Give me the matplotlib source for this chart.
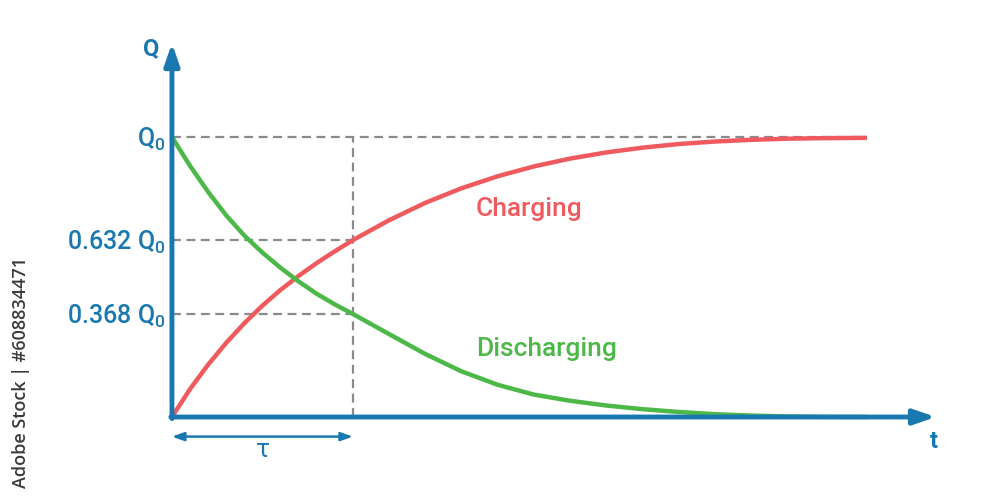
import matplotlib
matplotlib.use("Agg")
import matplotlib.pyplot as plt

# Data (time in units of tau, charge in units of Q0)
t_vals = [0, 0.1, 0.2, 0.3, 0.4, 0.5, 0.6, 0.7, 0.8, 0.9, 1.0, 1.2, 1.4, 1.6, 1.8,
          2.0, 2.2, 2.4, 2.6, 2.8, 3.0, 3.2, 3.4, 3.6, 3.84]
charging = [0, 0.100, 0.187, 0.265, 0.335, 0.398, 0.454, 0.504, 0.550, 0.592, 0.632,
            0.703, 0.765, 0.817, 0.860, 0.895, 0.923, 0.945, 0.962, 0.975, 0.984,
            0.990, 0.994, 0.996, 0.997]
discharging = [1.0, 0.897, 0.804, 0.720, 0.648, 0.587, 0.533, 0.484, 0.440, 0.402, 0.368,
               0.296, 0.225, 0.163, 0.115, 0.080, 0.058, 0.041, 0.028, 0.018, 0.010,
               0.005, 0.002, 0.0005, 0.0]
level_values = [1.0, 0.632, 0.368]
level_labels = ["Q$_0$", "0.632 Q$_0$", "0.368 Q$_0$"]
tau = 1.0

BLUE = "#1a78b0"
RED = "#ef5a5e"
GREEN = "#4cb848"
GRAY = "#8a8a8a"

plt.rcParams['font.family'] = ['Roboto', 'DejaVu Sans']
plt.rcParams['mathtext.default'] = 'regular'

fig = plt.figure(figsize=(10, 5.02), dpi=100)
ax = fig.add_axes([0, 0, 1, 1])
ax.set_xlim(-0.950, 4.575)
ax.set_ylim(-0.300, 1.493)
ax.axis('off')

# dashed guides
dash = dict(color=GRAY, lw=1.6, ls=(0, (4, 2.5)), zorder=1)
ax.plot([0, t_vals[-1]], [1.0, 1.0], **dash)
for lv in level_values[1:]:
    ax.plot([0, tau], [lv, lv], **dash)
ax.plot([tau, tau], [0, 1.0], **dash)

# curves
ax.plot(t_vals, charging, color=RED, lw=3.2, solid_capstyle='butt',
        solid_joinstyle='round', zorder=3)
ax.plot(t_vals, discharging, color=GREEN, lw=3.2, solid_capstyle='butt',
        solid_joinstyle='round', zorder=3)

# axes with arrows
ax.annotate("", xy=(0, 1.335), xytext=(0, -0.006),
            arrowprops=dict(arrowstyle='-|>,head_length=1.3,head_width=0.45',
                            lw=3.5, color=BLUE, shrinkA=0, shrinkB=0), zorder=4)
ax.annotate("", xy=(4.22, 0), xytext=(-0.006, 0),
            arrowprops=dict(arrowstyle='-|>,head_length=1.3,head_width=0.45',
                            lw=3.5, color=BLUE, shrinkA=0, shrinkB=0), zorder=4)

# tau double arrow
ax.annotate("", xy=(tau, -0.07), xytext=(0, -0.07),
            arrowprops=dict(arrowstyle='<|-|>,head_length=0.7,head_width=0.25',
                            lw=1.8, color=BLUE, shrinkA=0, shrinkB=0))
ax.text(tau / 2, -0.115, "τ", color=BLUE, fontsize=17, ha='center', va='center',
        family=['DejaVu Sans'])

# axis labels
ax.text(-0.115, 1.32, "Q", color=BLUE, fontsize=17, fontweight='bold', ha='center', va='center')
ax.text(4.21, -0.085, "t", color=BLUE, fontsize=17, fontweight='bold', ha='center', va='center')

# level labels
for lv, lab in zip(level_values, level_labels):
    ax.text(-0.035, lv - 0.005, lab, color=BLUE, fontsize=18, fontweight='medium',
            ha='right', va='center')

# curve labels
ax.text(1.68, 0.745, "Charging", color=RED, fontsize=19, fontweight='medium', ha='left', va='center')
ax.text(1.68, 0.245, "Discharging", color=GREEN, fontsize=19, fontweight='medium', ha='left', va='center')

# side credit text
fig.text(0.021, 0.257, "Adobe Stock | #608834471", rotation=90, color="#3a3a3a",
         fontsize=13, fontweight='semibold', ha='center', va='center',
         family=['Open Sans', 'DejaVu Sans'])

fig.savefig("out.png", dpi=100, facecolor='white')
